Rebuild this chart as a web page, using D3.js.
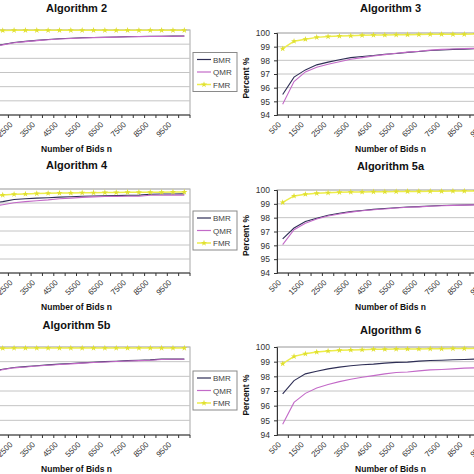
<!DOCTYPE html>
<html>
<head>
<meta charset="utf-8">
<script src="https://cdn.jsdelivr.net/npm/d3@7"></script>
<style>
  body { margin: 0; background: #fff; }
  text { font-family: Arial, "Liberation Sans", sans-serif; }
</style>
</head>
<body>
<script>
// categories (number of bids n)
var bids = [500, 1000, 1500, 2000, 2500, 3000, 3500, 4000, 4500, 5000,
            5500, 6000, 6500, 7000, 7500, 8000, 8500, 9000, 9500, 10000];
var xLabels = [500, 1500, 2500, 3500, 4500, 5500, 6500, 7500, 8500, 9500];
var yTicks = [94, 95, 96, 97, 98, 99, 100];
var seriesNames = ["BMR", "QMR", "FMR"];
var titles = ["Algorithm 2", "Algorithm 3", "Algorithm 4", "Algorithm 5a", "Algorithm 5b", "Algorithm 6"];

var alg2BMR = [97.8, 98.45, 98.8, 98.98, 99.12, 99.2, 99.27, 99.33, 99.38, 99.42, 99.45, 99.47, 99.49, 99.51, 99.53, 99.54, 99.55, 99.56, 99.57, 99.58];
var alg2QMR = [97.6, 98.35, 98.75, 98.95, 99.1, 99.18, 99.25, 99.31, 99.36, 99.4, 99.44, 99.46, 99.48, 99.5, 99.52, 99.53, 99.54, 99.55, 99.56, 99.57];
var alg2FMR = [99.85, 99.93, 99.96, 99.97, 99.98, 99.98, 99.98, 99.98, 99.98, 99.98, 99.98, 99.98, 99.98, 99.98, 99.98, 99.98, 99.98, 99.98, 99.98, 99.98];

var alg3BMR = [95.5, 96.77, 97.3, 97.67, 97.87, 98.04, 98.2, 98.28, 98.35, 98.45, 98.5, 98.58, 98.65, 98.72, 98.76, 98.8, 98.82, 98.85, 98.88, 98.9];
var alg3QMR = [94.78, 96.45, 97.15, 97.5, 97.72, 97.9, 98.08, 98.2, 98.32, 98.42, 98.52, 98.6, 98.66, 98.75, 98.8, 98.83, 98.86, 98.88, 98.9, 98.92];
var alg3FMR = [98.85, 99.4, 99.55, 99.68, 99.74, 99.78, 99.8, 99.83, 99.85, 99.86, 99.87, 99.88, 99.89, 99.9, 99.9, 99.91, 99.91, 99.92, 99.92, 99.93];

var alg4BMR = [98.2, 98.75, 98.98, 99.1, 99.25, 99.3, 99.35, 99.38, 99.42, 99.45, 99.48, 99.5, 99.52, 99.53, 99.55, 99.56, 99.63, 99.64, 99.64, 99.65];
var alg4QMR = [97.8, 98.4, 98.75, 98.88, 99.02, 99.1, 99.16, 99.22, 99.3, 99.35, 99.4, 99.44, 99.46, 99.47, 99.48, 99.48, 99.55, 99.55, 99.56, 99.56];
var alg4FMR = [99.2, 99.4, 99.5, 99.57, 99.62, 99.65, 99.68, 99.7, 99.71, 99.72, 99.73, 99.74, 99.75, 99.75, 99.76, 99.76, 99.77, 99.77, 99.78, 99.78];

var alg5aBMR = [96.47, 97.25, 97.72, 97.96, 98.18, 98.32, 98.44, 98.52, 98.6, 98.66, 98.72, 98.77, 98.8, 98.84, 98.88, 98.9, 98.92, 98.93, 98.94, 98.95];
var alg5aQMR = [96.05, 97.13, 97.6, 97.9, 98.12, 98.27, 98.4, 98.5, 98.57, 98.63, 98.7, 98.75, 98.78, 98.82, 98.86, 98.89, 98.91, 98.93, 98.94, 98.95];
var alg5aFMR = [99.1, 99.57, 99.7, 99.76, 99.8, 99.83, 99.85, 99.86, 99.87, 99.88, 99.89, 99.9, 99.9, 99.91, 99.91, 99.92, 99.92, 99.92, 99.93, 99.93];

var alg5bBMR = [97.4, 97.95, 98.3, 98.48, 98.6, 98.66, 98.72, 98.78, 98.83, 98.87, 98.92, 98.96, 99.0, 99.03, 99.07, 99.09, 99.12, 99.17, 99.18, 99.17];
var alg5bQMR = [97.35, 97.92, 98.28, 98.46, 98.58, 98.64, 98.7, 98.76, 98.81, 98.85, 98.9, 98.94, 98.98, 99.01, 99.05, 99.07, 99.1, 99.15, 99.16, 99.16];
var alg5bFMR = [99.7, 99.85, 99.9, 99.92, 99.93, 99.93, 99.93, 99.93, 99.93, 99.93, 99.93, 99.93, 99.93, 99.93, 99.93, 99.93, 99.93, 99.93, 99.93, 99.93];

var alg6BMR = [96.8, 97.71, 98.17, 98.35, 98.51, 98.63, 98.72, 98.79, 98.83, 98.9, 98.95, 98.97, 99.04, 99.08, 99.1, 99.13, 99.15, 99.18, 99.2, 99.2];
var alg6QMR = [94.74, 96.22, 96.84, 97.2, 97.44, 97.64, 97.8, 97.94, 98.05, 98.17, 98.26, 98.3, 98.37, 98.44, 98.47, 98.51, 98.56, 98.58, 98.6, 98.62];
var alg6FMR = [98.86, 99.36, 99.54, 99.66, 99.73, 99.77, 99.8, 99.82, 99.84, 99.85, 99.86, 99.87, 99.87, 99.88, 99.88, 99.89, 99.89, 99.9, 99.9, 99.9];

var allSeries = [
  [alg2BMR, alg2QMR, alg2FMR],
  [alg3BMR, alg3QMR, alg3FMR],
  [alg4BMR, alg4QMR, alg4FMR],
  [alg5aBMR, alg5aQMR, alg5aFMR],
  [alg5bBMR, alg5bQMR, alg5bFMR],
  [alg6BMR, alg6QMR, alg6FMR]
];

// layout of each panel (the figure is cropped, left panels start off-screen)
var layout = [
  {x0: -37, top: 30,  bottom: 115, titleY: 12},
  {x0: 277, top: 33,  bottom: 115, titleY: 12},
  {x0: -37, top: 189, bottom: 273, titleY: 169},
  {x0: 277, top: 190, bottom: 273, titleY: 170},
  {x0: -37, top: 347, bottom: 435, titleY: 329},
  {x0: 277, top: 347, bottom: 435, titleY: 334}
];
var plotW = 227;
var colors = ["#2e2e55", "#c36ac8", "#eded4a"];
var starFill = "#e0e030";

var svg = d3.select("body").append("svg")
    .attr("width", 474)
    .attr("height", 474);

layout.forEach(function(L, k){
  var g = svg.append("g");
  var x = d3.scaleBand().domain(bids).range([L.x0, L.x0 + plotW]);
  var y = d3.scaleLinear().domain([94, 100]).range([L.bottom, L.top]);
  var cx = function(d){ return x(d) + x.bandwidth() / 2; };

  // plot area border
  g.append("rect")
    .attr("x", L.x0).attr("y", L.top)
    .attr("width", plotW).attr("height", L.bottom - L.top)
    .attr("fill", "#fff").attr("stroke", "#a8a8a8");

  // gridlines
  g.selectAll(".grid").data(yTicks.slice(1)).enter()
    .append("line")
    .attr("x1", L.x0).attr("x2", L.x0 + plotW)
    .attr("y1", d => y(d)).attr("y2", d => y(d))
    .attr("stroke", "#c4c4c4").attr("stroke-width", 1);

  // y axis
  var yAxis = g.append("g")
    .attr("transform", "translate(" + L.x0 + ",0)")
    .call(d3.axisLeft(y).tickValues(yTicks).tickFormat(d3.format("d")).tickSize(3).tickPadding(4));
  yAxis.select(".domain").attr("stroke", "#333");
  yAxis.selectAll(".tick line").attr("stroke", "#333");
  yAxis.selectAll("text").attr("font-size", 8.5).attr("fill", "#333")
    .attr("font-family", "Arial, 'Liberation Sans', sans-serif");

  // x axis: ticks at every category boundary
  var xg = g.append("g").attr("transform", "translate(0," + L.bottom + ")");
  xg.append("line")
    .attr("x1", L.x0).attr("x2", L.x0 + plotW)
    .attr("stroke", "#333");
  xg.selectAll(".xt").data(bids).enter()
    .append("line")
    .attr("x1", d => x(d) + x.bandwidth()).attr("x2", d => x(d) + x.bandwidth())
    .attr("y1", 0).attr("y2", 3)
    .attr("stroke", "#333");
  xg.selectAll(".xl").data(xLabels).enter()
    .append("text")
    .attr("transform", d => "translate(" + (cx(d) - 3) + ",8) rotate(-45)")
    .attr("text-anchor", "end")
    .attr("dy", "0.35em")
    .attr("font-size", 8)
    .attr("fill", "#333")
    .text(d => d);

  // series
  allSeries[k].forEach(function(vals, s){
    var line = d3.line()
      .x((d, i) => cx(bids[i]))
      .y(d => y(d));
    g.append("path")
      .datum(vals)
      .attr("d", line)
      .attr("fill", "none")
      .attr("stroke", colors[s])
      .attr("stroke-width", s == 2 ? 1.5 : 1.1);
    if (s == 2) {
      g.selectAll(".mk" + k).data(vals).enter()
        .append("path")
        .attr("d", d3.symbol().type(d3.symbolStar).size(12))
        .attr("transform", (d, i) => "translate(" + cx(bids[i]) + "," + y(d) + ")")
        .attr("fill", starFill);
    }
  });

  // titles
  var mid = L.x0 + plotW / 2;
  g.append("text")
    .attr("x", mid).attr("y", L.titleY)
    .attr("text-anchor", "middle")
    .attr("font-size", 11).attr("font-weight", "bold")
    .attr("fill", "#111")
    .text(titles[k]);
  g.append("text")
    .attr("x", mid).attr("y", L.bottom + 37)
    .attr("text-anchor", "middle")
    .attr("font-size", 8.5).attr("font-weight", "bold")
    .attr("fill", "#111")
    .text("Number of Bids n");
  g.append("text")
    .attr("transform", "translate(" + (L.x0 - 28) + "," + ((L.top + L.bottom) / 2 + 4) + ") rotate(-90)")
    .attr("text-anchor", "middle")
    .attr("font-size", 8.5).attr("font-weight", "bold")
    .attr("fill", "#111")
    .text("Percent %");

  // legend
  var lx = L.x0 + plotW + 3;
  var ly = (L.top + L.bottom) / 2 - 20;
  var leg = g.append("g").attr("transform", "translate(" + lx + "," + ly + ")");
  leg.append("rect")
    .attr("width", 44).attr("height", 39)
    .attr("fill", "#fff").attr("stroke", "#8a8a8a");
  seriesNames.forEach(function(name, s){
    var yy = 7 + s * 12.5;
    leg.append("line")
      .attr("x1", 4).attr("x2", 18)
      .attr("y1", yy).attr("y2", yy)
      .attr("stroke", colors[s]).attr("stroke-width", s == 2 ? 1.5 : 1.2);
    if (s == 2) {
      leg.append("path")
        .attr("d", d3.symbol().type(d3.symbolStar).size(12))
        .attr("transform", "translate(11," + yy + ")")
        .attr("fill", starFill);
    }
    leg.append("text")
      .attr("x", 20).attr("y", yy + 3)
      .attr("font-size", 8).attr("fill", "#444")
      .text(name);
  });
});
</script>
</body>
</html>
